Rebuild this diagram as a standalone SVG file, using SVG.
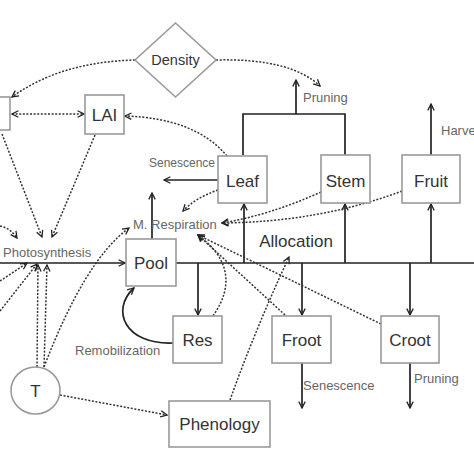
<svg xmlns="http://www.w3.org/2000/svg" width="474" height="474" viewBox="0 0 474 474">
<defs>
<style>
.box{fill:#fff;stroke:#9a9a9a;stroke-width:1.6}
.lbl{font-family:"Liberation Sans",Arial,sans-serif;font-size:17px;fill:#333;text-anchor:middle}
.sm{font-family:"Liberation Sans",Arial,sans-serif;font-size:13px;fill:#666}
.s{fill:none;stroke:#222;stroke-width:1.7;marker-end:url(#ah)}
.p{fill:none;stroke:#222;stroke-width:1.7}
.d{fill:none;stroke:#333;stroke-width:1.5;stroke-dasharray:2 1.6;marker-end:url(#ah)}
</style>
<marker id="ah" viewBox="0 0 10 10" refX="9" refY="5" markerWidth="8" markerHeight="8" orient="auto-start-reverse" markerUnits="userSpaceOnUse">
<path d="M1,1 L9,5 L1,9" fill="none" stroke="#222" stroke-width="1.6"/>
</marker>
</defs>
<rect width="474" height="474" fill="#fff"/>

<g id="connectors">
<path class="s" d="M0,263 H125"/>
<path class="p" d="M176,263 H474"/>
<path class="s" d="M152,239 V193"/>
<path class="s" d="M244,263 V204"/>
<path class="s" d="M345,263 V204"/>
<path class="s" d="M431,263 V204"/>
<path class="s" d="M198,263 V315"/>
<path class="s" d="M302,263 V315"/>
<path class="s" d="M410,263 V315"/>
<path class="s" d="M218,180 H164"/>
<path class="p" d="M243,155 V114 H345 V155"/>
<path class="s" d="M296,114 V80"/>
<path class="s" d="M431,155 V104"/>
<path class="s" d="M302,363 V408"/>
<path class="s" d="M410,363 V408"/>
<path class="s" d="M173,343 C125,345 110,310 134,288"/>

<path class="d" d="M135,60 Q60,62 12,97"/>
<path class="d" d="M216,60 Q290,58 320,86"/>
<path class="d" d="M12,114 H84" style="marker-start:url(#ah)"/>
<path class="d" d="M227,156 Q195,118 125,116"/>
<path class="d" d="M2,134 L42,237"/>
<path class="d" d="M95,135 L52,237"/>
<path class="d" d="M0,226 Q10,228 17,238"/>
<path class="d" d="M0,281 L27,263"/>
<path class="d" d="M0,311 L37,264"/>
<path class="d" d="M37,367 L38,265"/>
<path class="d" d="M44,367 L47,265"/>
<path class="d" d="M44,367 Q85,260 129,228"/>
<path class="d" d="M60,395 L167,415"/>
<path class="d" d="M230,400 Q255,330 289,257"/>
<path class="d" d="M218,190 Q195,198 183,211"/>
<path class="d" d="M321,192 Q270,215 222,223"/>
<path class="d" d="M402,191 Q320,222 222,223"/>
<path class="d" d="M213,316 Q245,270 198,235"/>
<path class="d" d="M285,315 L198,235"/>
<path class="d" d="M381,324 L198,235"/>
</g>

<g id="left"><rect class="box" x="-40" y="97" width="50" height="33"/></g>
<g id="density"><polygon class="box" points="175.5,23 216,60 175.5,97 135,60"/><text class="lbl" x="175.5" y="65" style="font-size:14.5px">Density</text></g>
<g id="lai"><rect class="box" x="85" y="95" width="39" height="39"/><text class="lbl" x="104.5" y="121">LAI</text></g>
<g id="leaf"><rect class="box" x="218" y="156" width="49" height="47"/><text class="lbl" x="242.5" y="187">Leaf</text></g>
<g id="stem"><rect class="box" x="321" y="155" width="49" height="48"/><text class="lbl" x="345.5" y="187">Stem</text></g>
<g id="fruit"><rect class="box" x="402" y="155" width="58" height="48"/><text class="lbl" x="431" y="187">Fruit</text></g>
<g id="pool"><rect class="box" x="126" y="239" width="50" height="47"/><text class="lbl" x="151" y="269">Pool</text></g>
<g id="res"><rect class="box" x="173" y="316" width="49" height="47"/><text class="lbl" x="197.5" y="346">Res</text></g>
<g id="froot"><rect class="box" x="272" y="316" width="59" height="47"/><text class="lbl" x="301.5" y="346">Froot</text></g>
<g id="croot"><rect class="box" x="381" y="316" width="58" height="47"/><text class="lbl" x="410" y="346">Croot</text></g>
<g id="phenology"><rect class="box" x="169" y="401" width="101" height="46"/><text class="lbl" x="219.5" y="430">Phenology</text></g>
<g id="t"><ellipse class="box" cx="35.5" cy="390.5" rx="24.5" ry="23.5"/><text class="lbl" x="35.5" y="396.5">T</text></g>

<g id="labels">
<text class="lbl" x="296" y="247">Allocation</text>
<text class="sm" x="3" y="256.5">Photosynthesis</text>
<text class="sm" x="133" y="228.5">M. Respiration</text>
<text class="sm" x="149" y="166.5" style="font-size:12px">Senescence</text>
<text class="sm" x="303" y="102">Pruning</text>
<text class="sm" x="441" y="134.5">Harvest</text>
<text class="sm" x="75" y="354.5">Remobilization</text>
<text class="sm" x="303" y="390">Senescence</text>
<text class="sm" x="414" y="383">Pruning</text>
</g>
</svg>
